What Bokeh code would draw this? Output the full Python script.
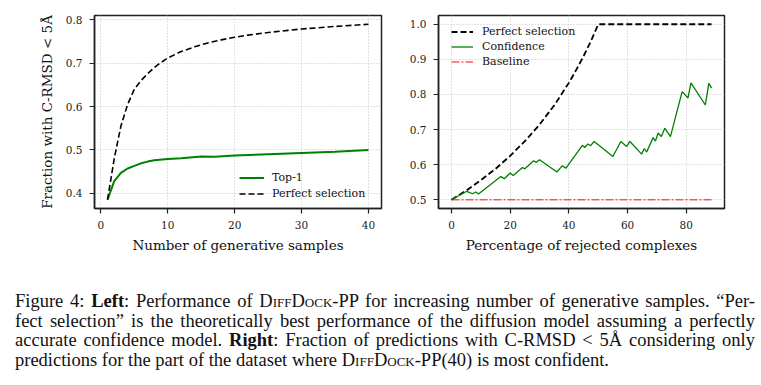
from bokeh.plotting import figure
from bokeh.models import Range1d, FixedTicker, NumeralTickFormatter, Legend, LegendItem, Div
from bokeh.layouts import row, column
from bokeh.embed import file_html
from bokeh.resources import INLINE

# ---------------- data ----------------
# Left panel: number of generative samples
top1_x = [1, 2, 3, 4, 5, 6, 7, 8, 10, 12, 15, 17, 20, 25, 30, 35, 40]
top1_y = [0.385, 0.428, 0.447, 0.457, 0.463, 0.469, 0.473, 0.476, 0.479, 0.481,
          0.485, 0.484, 0.487, 0.490, 0.493, 0.496, 0.500]
perf_left_x = [1, 2, 3, 4, 5, 6, 7, 8, 9, 10, 12, 14, 16, 18, 20, 22, 25, 28, 30, 35, 40]
perf_left_y = [0.385, 0.48, 0.555, 0.605, 0.64, 0.66, 0.676, 0.69, 0.702, 0.712, 0.727,
               0.738, 0.747, 0.754, 0.76, 0.765, 0.771, 0.776, 0.779, 0.785, 0.79]
left_xticks = [0, 10, 20, 30, 40]
left_yticks = [0.4, 0.5, 0.6, 0.7, 0.8]

# Right panel: percentage of rejected complexes
perf_right_x = [0, 5, 10, 15, 20, 25, 30, 35, 40, 42.5, 45, 47.5, 50, 88.6]
perf_right_y = [0.5, 0.526, 0.556, 0.588, 0.625, 0.667, 0.714, 0.769, 0.833, 0.870,
                0.909, 0.952, 1.0, 1.0]
conf_x = [0, 5.2, 7.2, 8.3, 9.2, 16.8, 18, 20, 21, 24.2, 25, 28, 28.8, 30, 35.9, 37.8,
          39, 44.6, 45.4, 46.5, 47.4, 48.6, 55, 57.7, 59.7, 60.8, 64.8, 65.7, 66.5, 68.7,
          69.5, 70.4, 71.5, 72.7, 74.6, 78.6, 80.6, 81.6, 86.5, 87.7, 88.6]
conf_y = [0.5, 0.524, 0.517, 0.522, 0.516, 0.566, 0.56, 0.576, 0.569, 0.592, 0.588,
          0.611, 0.606, 0.614, 0.579, 0.597, 0.590, 0.655, 0.649, 0.659, 0.654, 0.666,
          0.623, 0.666, 0.652, 0.666, 0.630, 0.646, 0.636, 0.677, 0.667, 0.690, 0.680,
          0.704, 0.680, 0.808, 0.790, 0.833, 0.770, 0.832, 0.818]
base_x = [0, 88.6]
base_y = [0.5, 0.5]
right_xticks = [0, 20, 40, 60, 80]
right_yticks = [0.5, 0.6, 0.7, 0.8, 0.9, 1.0]

FONT = "DejaVu Serif"


def style(p, xticks, yticks, yfmt):
    p.outline_line_color = "#222222"
    p.outline_line_width = 1.5
    p.xaxis.ticker = FixedTicker(ticks=xticks)
    p.yaxis.ticker = FixedTicker(ticks=yticks)
    p.yaxis.formatter = NumeralTickFormatter(format=yfmt)
    for ax in (p.xaxis, p.yaxis):
        ax.axis_line_color = "#222222"
        ax.axis_line_width = 1.5
        ax.major_tick_in = 0
        ax.major_tick_out = 5
        ax.major_tick_line_color = "#222222"
        ax.major_tick_line_width = 1.2
        ax.minor_tick_line_color = None
        ax.major_label_text_font = FONT
        ax.major_label_text_font_size = "10.5px"
        ax.major_label_text_color = "#222222"
        ax.major_label_standoff = 7
        ax.axis_label_text_font = FONT
        ax.axis_label_text_font_size = "13.5px"
        ax.axis_label_text_font_style = "normal"
        ax.axis_label_text_color = "#111111"
    p.yaxis.axis_label_standoff = 8
    p.xaxis.axis_label_standoff = 5
    for g in (p.xgrid, p.ygrid):
        g.grid_line_color = "#c4c4c4"
        g.grid_line_dash = "1 2"
        g.grid_line_width = 1


# ---------------- left figure ----------------
p1 = figure(width=395, height=255, output_backend="svg", toolbar_location=None,
            x_range=Range1d(-0.95, 41.95), y_range=Range1d(0.36475, 0.81025),
            min_border_left=94, min_border_right=14, min_border_top=15, min_border_bottom=46)
style(p1, left_xticks, left_yticks, "0.0")
p1.xaxis.axis_label = "Number of generative samples"
p1.yaxis.axis_label = "Fraction with C-RMSD < 5Å"

r_top1 = p1.line(top1_x, top1_y, line_color="#008000", line_width=2)
r_pl = p1.line(perf_left_x, perf_left_y, line_color="black", line_width=1.6, line_dash="6 3")

leg1 = Legend(items=[LegendItem(label="Top-1", renderers=[r_top1]),
                     LegendItem(label="Perfect selection", renderers=[r_pl])],
              location=(145, 8), margin=0, padding=4, spacing=3,
              label_height=13, glyph_height=13, glyph_width=25, label_standoff=8,
              label_text_font=FONT, label_text_font_size="11px",
              label_text_color="#111111",
              background_fill_alpha=0, border_line_color=None)
p1.add_layout(leg1)

# ---------------- right figure ----------------
p2 = figure(width=358, height=255, output_backend="svg", toolbar_location=None,
            x_range=Range1d(-4.43, 93.03), y_range=Range1d(0.475, 1.025),
            min_border_left=43, min_border_right=29, min_border_top=15, min_border_bottom=46)
style(p2, right_xticks, right_yticks, "0.0")
p2.xaxis.axis_label = "Percentage of rejected complexes"

r_pr = p2.line(perf_right_x, perf_right_y, line_color="black", line_width=1.8, line_dash="6 3")
r_conf = p2.line(conf_x, conf_y, line_color="#008000", line_width=1.3)
r_base = p2.line(base_x, base_y, line_color="red", line_alpha=0.65, line_width=1.5,
                 line_dash="8 2 2 2")

leg2 = Legend(items=[LegendItem(label="Perfect selection", renderers=[r_pr]),
                     LegendItem(label="Confidence", renderers=[r_conf]),
                     LegendItem(label="Baseline", renderers=[r_base])],
              location=(13, 140), margin=0, padding=4, spacing=2,
              label_height=13, glyph_height=13, glyph_width=22, label_standoff=9,
              label_text_font=FONT, label_text_font_size="11px",
              label_text_color="#111111",
              background_fill_alpha=0, border_line_color=None)
p2.add_layout(leg2)

# ---------------- caption ----------------
SC = '<span style="font-variant: small-caps;">'
dd = 'D' + SC + 'iff</span>D' + SC + 'ock</span>'
J = '<div style="text-align: justify; text-align-last: justify; white-space: nowrap;">'
caption_lines = [
    'Figure 4: <b>Left</b>: Performance of ' + dd + '-PP for increasing number of generative samples. \u201cPer-',
    'fect selection\u201d is the theoretically best performance of the diffusion model assuming a perfectly',
    'accurate confidence model. <b>Right</b>: Fraction of predictions with C-RMSD &lt; 5\u00c5 considering only',
    'predictions for the part of the dataset where ' + dd + '-PP(40) is most confident.',
]
html = ('<div style="font-family: \'Liberation Serif\'; font-size: 18.5px; line-height: 19.5px; '
        'color: #111; width: 740px;">'
        + ''.join(J + l + '</div>' for l in caption_lines[:3])
        + '<div style="text-align: left; white-space: nowrap;">' + caption_lines[3] + '</div>'
        + '</div>')
cap = Div(text=html, width=740, height=80, margin=(37, 0, 0, 15))

layout = column(row(p1, p2), cap)
open("out.html", "w").write(file_html(layout, INLINE))
